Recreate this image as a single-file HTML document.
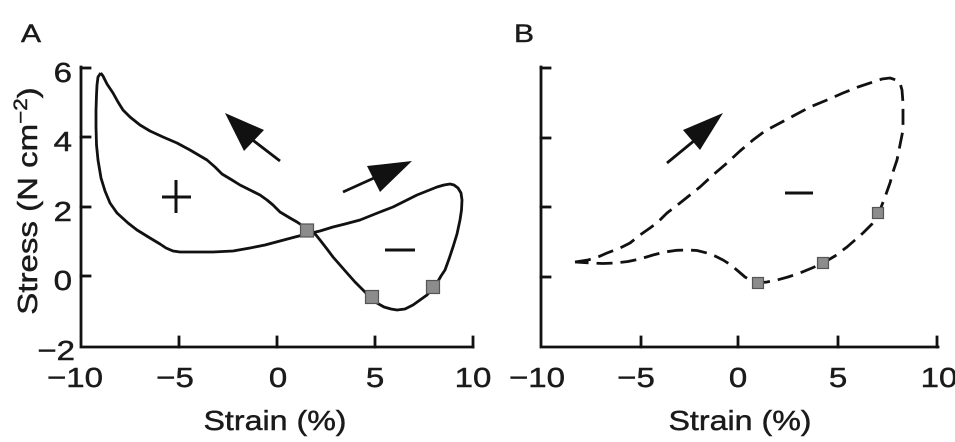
<!DOCTYPE html>
<html>
<head>
<meta charset="utf-8">
<style>
html,body{margin:0;padding:0;background:#fff;}
svg{display:block;}
text{font-family:"Liberation Sans",Arial,sans-serif;fill:#1a1a1a;stroke:#1a1a1a;stroke-width:0.45px;}
</style>
</head>
<body>
<svg width="955" height="442" viewBox="0 0 955 442" xmlns="http://www.w3.org/2000/svg">
<rect width="955" height="442" fill="#fff"/>

<!-- Panel labels -->
<g transform="translate(21,42) scale(1.2,1)"><text x="0" y="0" font-size="25">A</text></g>
<g transform="translate(514,42) scale(1.2,1)"><text x="0" y="0" font-size="25">B</text></g>

<!-- ============ PANEL A ============ -->
<g stroke="#111" stroke-width="2.8" fill="none" stroke-linecap="square">
  <polyline points="81,67 81,347 473,347"/>
  <line x1="81" y1="68" x2="90" y2="68"/>
  <line x1="81" y1="137" x2="90" y2="137"/>
  <line x1="81" y1="207" x2="90" y2="207"/>
  <line x1="81" y1="276" x2="90" y2="276"/>
  <line x1="179" y1="347" x2="179" y2="337"/>
  <line x1="277" y1="347" x2="277" y2="337"/>
  <line x1="375" y1="347" x2="375" y2="337"/>
  <line x1="473" y1="347" x2="473" y2="337"/>
</g>

<!-- Y tick labels A -->
<g font-size="28" text-anchor="end">
  <g transform="translate(72,82) scale(1.18,1)"><text>6</text></g>
  <g transform="translate(72,151) scale(1.18,1)"><text>4</text></g>
  <g transform="translate(72,221) scale(1.18,1)"><text>2</text></g>
  <g transform="translate(72,290) scale(1.18,1)"><text>0</text></g>
  <g transform="translate(75,360) scale(1.18,1)"><text>−2</text></g>
</g>
<!-- X tick labels A -->
<g font-size="28" text-anchor="middle">
  <g transform="translate(75,387) scale(1.18,1)"><text>−10</text></g>
  <g transform="translate(175,387) scale(1.18,1)"><text>−5</text></g>
  <g transform="translate(278,387) scale(1.18,1)"><text>0</text></g>
  <g transform="translate(375,387) scale(1.18,1)"><text>5</text></g>
  <g transform="translate(473,387) scale(1.18,1)"><text>10</text></g>
</g>
<g transform="translate(275,430) scale(1.15,1)"><text font-size="28" text-anchor="middle">Strain (%)</text></g>

<!-- Y axis title -->
<g transform="translate(37,201) rotate(-90) scale(1.18,1)">
  <text font-size="28" text-anchor="middle">Stress (N cm<tspan font-size="19" dy="-10">−2</tspan><tspan dy="10">)</tspan></text>
</g>

<!-- Curve A -->
<polyline fill="none" stroke="#111" stroke-width="2.8" stroke-linejoin="round" points="
100.7,73 103,76 107,84 113,93 118,102 123,110 130,117 140,125 150,131 163,137 177,143 190,150 207,160 215,167 222,174 232,180 240,185 250,190 260,195 267,200 273,205 280,212 290,218 297,222 303,226 310,230 316,235 320,240 327,249 333,257 340,265 347,273 355,282 363,290 370,297 377,303 384,307 391,309 397,310 405,309 413,305 420,300 427,295 433,288 437,283 441,276 445,270 449,259 453,247 457,234 460,220 461.5,210 462,200 461,193 458,188 454,185 450,184 444,185 437,187 427,191 417,195 405,201 393,207 380,212 370,216 360,220 345,224 333,227 320,231 307,234 295,237 280,241 265,245 250,248 233,251 213,252 195,252 180,252 173,251 166,248 160,244 150,238 137,230 128,223 117,213 110,203 105,191 101,178 98,160 96.5,145 96,127 96,110 96.5,95 97,85 98,77 100.7,73"/>

<!-- Markers A -->
<g fill="#8c8c8c" stroke="#555" stroke-width="1.2">
  <rect x="300.5" y="224" width="13" height="13"/>
  <rect x="365.5" y="290.5" width="13" height="13"/>
  <rect x="426.5" y="280.5" width="13" height="13"/>
</g>

<!-- Arrows A -->
<line x1="280" y1="161" x2="250" y2="138" stroke="#111" stroke-width="2.8"/>
<polygon points="225,113 264,130 244,151" fill="#111"/>
<line x1="343" y1="192" x2="374" y2="178" stroke="#111" stroke-width="2.8"/>
<polygon points="412,161 367,166 380,192" fill="#111"/>

<!-- + and - A -->
<g stroke="#111" stroke-width="3">
  <line x1="162" y1="197" x2="191" y2="197"/>
  <line x1="176" y1="180" x2="176" y2="213"/>
  <line x1="385" y1="250" x2="415" y2="250"/>
</g>

<!-- ============ PANEL B ============ -->
<g stroke="#111" stroke-width="2.8" fill="none" stroke-linecap="square">
  <polyline points="541,67 541,347 938,347"/>
  <line x1="541" y1="68" x2="550" y2="68"/>
  <line x1="541" y1="138" x2="550" y2="138"/>
  <line x1="541" y1="207" x2="550" y2="207"/>
  <line x1="541" y1="277" x2="550" y2="277"/>
  <line x1="641" y1="347" x2="641" y2="337"/>
  <line x1="738" y1="347" x2="738" y2="337"/>
  <line x1="838" y1="347" x2="838" y2="337"/>
  <line x1="937" y1="347" x2="937" y2="337"/>
</g>
<g font-size="28" text-anchor="middle">
  <g transform="translate(537,387) scale(1.18,1)"><text>−10</text></g>
  <g transform="translate(636,387) scale(1.18,1)"><text>−5</text></g>
  <g transform="translate(738,387) scale(1.18,1)"><text>0</text></g>
  <g transform="translate(838,387) scale(1.18,1)"><text>5</text></g>
  <g transform="translate(939,387) scale(1.18,1)"><text>10</text></g>
</g>
<g transform="translate(740,430) scale(1.15,1)"><text font-size="28" text-anchor="middle">Strain (%)</text></g>

<!-- Curve B (dashed) -->
<polyline fill="none" stroke="#111" stroke-width="2.8" stroke-dasharray="16 8" stroke-linejoin="round" points="
575,262 588,260 598,257 607,253 620,248 630,243 640,235 650,228 658,222 667,213 680,203 690,195 700,187 713,175 727,163 740,151 753,140 765,131 780,123 795,115 810,107 827,100 843,93 858,87 873,82 882,79 890,78 896,80 900,83 902,90 903,103 903,117 903,130 900,145 897,160 893,172 890,183 885,197 880,210 878,213 872,224 863,233 855,240 847,247 835,256 823,263 812,268 800,273 788,277 777,280 767,282 758,283 752,281 745,277 738,271 731,265 723,260 715,256 707,253 697,250.5 687,250 677,250.3 665,252 653,255 640,259 628,261.5 615,263 603,263.5 590,263 575,262"/>

<!-- Markers B -->
<g fill="#8c8c8c" stroke="#555" stroke-width="1.2">
  <rect x="872.5" y="207.5" width="11" height="11"/>
  <rect x="817.5" y="257.5" width="11" height="11"/>
  <rect x="752.5" y="277.5" width="11" height="11"/>
</g>

<!-- Arrow B -->
<line x1="667" y1="163" x2="695" y2="140" stroke="#111" stroke-width="2.8"/>
<polygon points="723,113 683,130 700,150" fill="#111"/>

<!-- - B -->
<line x1="785" y1="193" x2="813" y2="193" stroke="#111" stroke-width="3"/>
</svg>
</body>
</html>
